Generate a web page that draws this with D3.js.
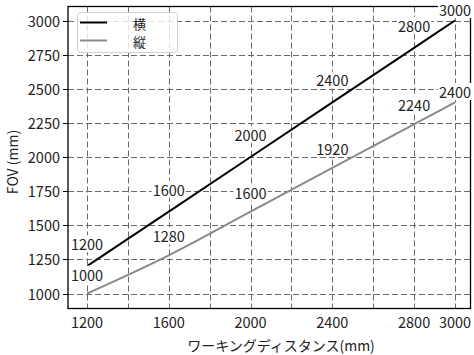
<!DOCTYPE html>
<html>
<head>
<meta charset="utf-8">
<script src="https://cdn.jsdelivr.net/npm/d3@7"></script>
<style>
  body { margin: 0; background: #fff; }
  svg text { font-family: "Noto Sans CJK JP", "Noto Sans", sans-serif; fill: #222; }
</style>
</head>
<body>
<script>

// DATA
// --------------------------------------------------------------------------

var distances = [1200, 1600, 2000, 2400, 2800, 3000];
var fovH = [1200, 1600, 2000, 2400, 2800, 3000];   // 横
var fovV = [1000, 1280, 1600, 1920, 2240, 2400];   // 縦
var seriesNames = ['横', '縦'];
var xTicks = [1200, 1600, 2000, 2400, 2800, 3000];
var xGrid = [1200, 1400, 1600, 1800, 2000, 2200, 2400, 2600, 2800, 3000];
var yTicks = [1000, 1250, 1500, 1750, 2000, 2250, 2500, 2750, 3000];


// LAYOUT
// --------------------------------------------------------------------------

var W = 474, H = 355;
var frame = { left: 68, right: 470.5, top: 6.5, bottom: 308.5 };

var x = d3.scaleLinear().domain([1200, 3000]).range([87, 455]);
var y = d3.scaleLinear().domain([1000, 3000]).range([293.5, 20.5]);

var svg = d3.select('body').append('svg')
  .attr('width', W).attr('height', H);

var series = [
  { name: seriesNames[0], values: fovH, color: '#000', dy: -21 },
  { name: seriesNames[1], values: fovV, color: '#8a8a8a', dy: -18 }
];


// GRID
// --------------------------------------------------------------------------

var grid = svg.append('g')
  .attr('stroke', '#6a6a6a')
  .attr('stroke-width', 1)
  .attr('stroke-dasharray', '6,3');

grid.selectAll('line.v').data(xGrid).enter().append('line')
  .attr('x1', function(d) { return Math.round(x(d)) + 0.5; })
  .attr('x2', function(d) { return Math.round(x(d)) + 0.5; })
  .attr('y1', frame.top).attr('y2', frame.bottom);

grid.selectAll('line.h').data(yTicks).enter().append('line')
  .attr('y1', function(d) { return Math.round(y(d)) + 0.5; })
  .attr('y2', function(d) { return Math.round(y(d)) + 0.5; })
  .attr('x1', frame.left).attr('x2', frame.right);


// LINES
// --------------------------------------------------------------------------

var line = d3.line()
  .x(function(d) { return x(d[0]); })
  .y(function(d) { return y(d[1]); })
  .curve(d3.curveMonotoneX);

series.forEach(function(s) {
  svg.append('path')
    .datum(d3.zip(distances, s.values))
    .attr('fill', 'none')
    .attr('stroke', s.color)
    .attr('stroke-width', 2)
    .attr('d', line);
});


// FRAME + AXES
// --------------------------------------------------------------------------

svg.append('rect')
  .attr('x', frame.left).attr('y', frame.top)
  .attr('width', frame.right - frame.left)
  .attr('height', frame.bottom - frame.top)
  .attr('fill', 'none').attr('stroke', '#000').attr('stroke-width', 1.3);

var yAxis = svg.append('g');
yTicks.forEach(function(t) {
  var yy = Math.round(y(t)) + 0.5;
  yAxis.append('line')
    .attr('x1', frame.left - 5).attr('x2', frame.left)
    .attr('y1', yy).attr('y2', yy)
    .attr('stroke', '#000');
  yAxis.append('text')
    .attr('x', frame.left - 8).attr('y', yy)
    .attr('dy', '0.35em')
    .attr('text-anchor', 'end')
    .attr('font-size', 14.5)
    .text(t);
});

xTicks.forEach(function(t) {
  svg.append('text')
    .attr('x', x(t)).attr('y', 323)
    .attr('dy', '0.35em')
    .attr('text-anchor', 'middle')
    .attr('font-size', 14.5)
    .text(t);
});

svg.append('text')
  .attr('x', 281).attr('y', 346)
  .attr('dy', '0.35em')
  .attr('text-anchor', 'middle')
  .attr('font-size', 14)
  .text('ワーキングディスタンス(mm)');

svg.append('text')
  .attr('transform', 'translate(13,162) rotate(-90)')
  .attr('dy', '0.35em')
  .attr('text-anchor', 'middle')
  .attr('font-size', 14)
  .text('FOV (mm)');


// POINT LABELS
// --------------------------------------------------------------------------

series.forEach(function(s) {
  s.values.forEach(function(v, i) {
    var last = i === s.values.length - 1;
    var g = svg.append('g')
      .attr('transform', 'translate(' + x(distances[i]) + ',' +
        (y(v) + (last ? -9.5 : s.dy)) + ')');
    var t = g.append('text')
      .attr('text-anchor', 'middle')
      .attr('dy', '0.35em')
      .attr('font-size', 14.5)
      .text(v);
    var b = t.node().getBBox();
    g.insert('rect', 'text')
      .attr('x', b.x - 1).attr('y', b.y + 2)
      .attr('width', b.width + 2).attr('height', b.height - 4)
      .attr('fill', '#fff');
  });
});


// LEGEND
// --------------------------------------------------------------------------

var legend = svg.append('g');

legend.append('rect')
  .attr('x', 77.5).attr('y', 12.5)
  .attr('width', 100).attr('height', 40)
  .attr('rx', 3)
  .attr('fill', '#fff').attr('fill-opacity', 0.8)
  .attr('stroke', '#d0d0d0');

series.forEach(function(s, i) {
  var ly = 22.5 + i * 18;
  legend.append('line')
    .attr('x1', 80).attr('x2', 107)
    .attr('y1', ly).attr('y2', ly)
    .attr('stroke', s.color).attr('stroke-width', 2);
  legend.append('text')
    .attr('x', 133).attr('y', ly + 1.5)
    .attr('dy', '0.35em')
    .attr('font-size', 13)
    .text(s.name);
});

</script>
</body>
</html>
